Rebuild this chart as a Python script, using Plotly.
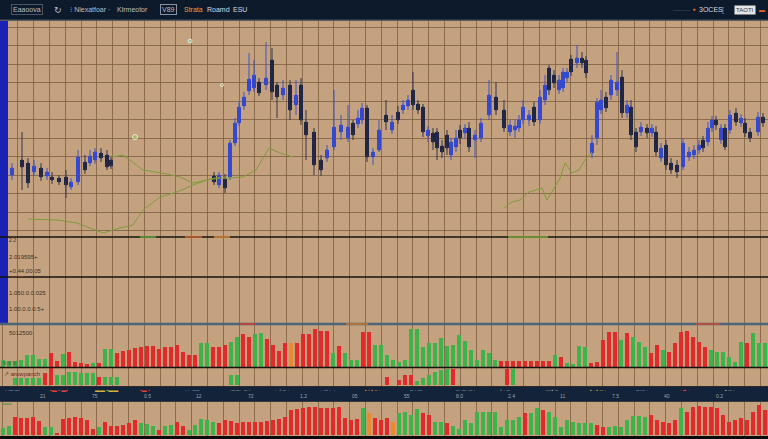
import plotly.graph_objects as go

# ---------------- data ----------------
candle_x = [12, 22, 28, 34, 41, 47, 52, 59, 66, 71, 78, 85, 90, 95, 101, 107, 111,
            214, 219, 225, 230, 235, 239, 244, 249, 254, 259, 266, 272, 277, 283, 290, 296, 301,
            306, 314, 321, 327, 334, 341, 348, 353, 358, 362, 367, 373, 379, 386, 392, 398, 403,
            408, 413, 418, 423, 428, 433, 437, 442, 447, 451, 456, 460, 465, 469, 475, 481, 489,
            496, 504, 510, 515, 519, 523, 529, 534, 540, 545, 549, 554, 559, 563, 567, 571, 577,
            582, 586, 592, 597, 601, 606, 611, 617, 622, 627, 631, 636, 641, 647, 652, 656, 661,
            666, 671, 677, 683, 689, 694, 699, 703, 708, 712, 716, 721, 725, 730, 736, 741, 745,
            750, 758, 763]
candle_open = [62, 77, 74, 65, 69, 61, 60, 59, 60, 50, 55, 75, 74, 77, 84, 82, 77,
               61, 52, 58, 60, 94, 114, 131, 146, 149, 155, 152, 177, 152, 142, 152, 132, 152,
               115, 105, 77, 79, 90, 105, 99, 114, 113, 117, 129, 80, 87, 122, 107, 125, 127,
               131, 147, 133, 130, 101, 104, 105, 91, 102, 82, 90, 107, 104, 109, 97, 99, 122,
               140, 127, 105, 107, 109, 117, 117, 130, 117, 137, 169, 162, 147, 149, 159, 178, 174,
               179, 177, 84, 99, 127, 140, 142, 147, 160, 124, 130, 105, 105, 109, 104, 105, 79,
               92, 74, 72, 70, 80, 82, 87, 97, 95, 109, 117, 97, 109, 107, 124, 114, 114,
               105, 105, 120]
candle_high = [74, 105, 79, 77, 74, 69, 65, 62, 67, 59, 87, 82, 87, 89, 89, 87, 80,
               65, 65, 63, 97, 119, 135, 145, 184, 177, 159, 195, 189, 155, 157, 157, 157, 159,
               127, 109, 82, 92, 147, 122, 132, 117, 127, 134, 132, 89, 117, 137, 122, 131, 137,
               142, 165, 137, 133, 111, 109, 109, 97, 107, 99, 107, 112, 113, 115, 107, 119, 157,
               155, 137, 117, 117, 122, 137, 127, 135, 147, 162, 172, 167, 162, 169, 169, 182, 192,
               185, 181, 102, 139, 147, 145, 162, 185, 167, 137, 137, 109, 115, 113, 113, 111, 94,
               97, 79, 77, 99, 90, 92, 97, 101, 115, 121, 121, 113, 113, 127, 129, 123, 119,
               109, 125, 124]
candle_low = [57, 47, 49, 61, 56, 57, 53, 52, 39, 47, 52, 63, 71, 73, 75, 67, 68,
              52, 49, 44, 57, 91, 111, 127, 142, 145, 141, 147, 137, 119, 137, 117, 122, 112,
              77, 62, 61, 75, 87, 97, 95, 97, 109, 113, 75, 72, 85, 107, 103, 113, 123,
              127, 127, 123, 100, 95, 87, 77, 79, 82, 77, 85, 93, 99, 85, 79, 95, 117,
              122, 105, 101, 99, 105, 113, 111, 111, 113, 132, 142, 149, 143, 145, 155, 161, 169,
              169, 159, 79, 92, 123, 125, 137, 141, 119, 119, 97, 85, 101, 99, 100, 81, 75,
              67, 63, 59, 67, 76, 78, 83, 85, 91, 105, 107, 93, 87, 103, 111, 110, 100,
              95, 101, 110]
candle_close = [69, 70, 54, 71, 60, 65, 57, 55, 52, 55, 80, 67, 81, 85, 79, 70, 71,
                55, 62, 49, 94, 114, 130, 140, 158, 162, 144, 159, 145, 140, 149, 127, 142, 117,
                102, 72, 67, 87, 110, 112, 110, 102, 119, 129, 80, 85, 107, 115, 115, 117, 132,
                137, 132, 127, 105, 107, 95, 89, 85, 89, 95, 99, 99, 109, 90, 102, 114, 142,
                127, 109, 112, 111, 117, 130, 122, 115, 140, 152, 147, 154, 157, 165, 165, 165, 179,
                174, 164, 94, 135, 137, 129, 157, 155, 124, 132, 102, 90, 110, 104, 109, 85, 89,
                72, 67, 65, 94, 85, 87, 92, 89, 109, 117, 112, 109, 90, 122, 115, 119, 104,
                99, 120, 114]

ma1_x = [112, 123, 143, 167, 180, 193, 207, 215, 230, 243, 256, 269, 280, 293]
ma1_y = [80, 82, 67, 63, 60, 54, 57, 59, 59, 60, 67, 89, 84, 80]
ma2_x = [28, 57, 77, 103, 120, 133, 143, 160, 177, 193, 207, 220]
ma2_y = [18, 17, 14, 4, 9, 12, 27, 40, 45, 52, 57, 59]
ma3_x = [504, 512, 520, 529, 536, 542, 547, 555, 560, 565, 572, 579, 585, 592]
ma3_y = [29, 35, 37, 45, 47, 49, 37, 50, 59, 74, 64, 67, 77, 85]

dot_x = [190, 135, 222]
dot_y = [196, 100, 152]

volume = [7, 6, 6, 7, 12, 12, 8, 8, 14, 6, 13, 15, 5, 4, 3, 4, 4, 18, 18, 14,
          16, 17, 19, 20, 21, 21, 18, 20, 20, 22, 15, 12, 12, 24, 24, 20, 20, 22, 25, 30,
          33, 30, 33, 34, 28, 22, 16, 24, 24, 24, 33, 33, 38, 36, 36, 14, 21, 14, 7, 7,
          35, 35, 22, 22, 12, 7, 5, 7, 38, 38, 20, 24, 24, 29, 21, 22, 32, 26, 17, 7,
          17, 14, 7, 6, 6, 6, 6, 6, 6, 6, 6, 6, 12, 10, 4, 3, 21, 20, 4, 5,
          27, 35, 35, 27, 34, 30, 25, 20, 14, 22, 17, 15, 24, 35, 36, 30, 25, 20, 17, 15,
          15, 10, 5, 25, 24, 34, 24, 24]
volume_dir = list(
    "ggggggggrrgrrrrgrggr"
    "rrrrrrrrrrrrrggrrrgg"
    "rrggrrrrorrrrrrgrggg"
    "rrgggggggggggggggggg"
    "gggrrrrrrrrrgrggggrr"
    "rrrgrgggrrgrrrrrrrgg"
    "ggggrggg"
)

osc_idx = [2, 3, 4, 5, 6, 7, 8, 9, 10, 11, 12, 13, 14, 15, 16, 17, 18, 19, 38, 39,
           64, 66, 67, 68, 69, 70, 71, 72, 73, 74, 75, 84, 85]
osc_val = [7, 7, 7, 7, 7, 12, 17, 10, 10, 13, 13, 12, 12, 12, 8, 8, 8, 8, 10, 10,
           8, 5, 10, 10, 4, 7, 10, 13, 15, 16, 16, 16, 16]
osc_dir = list("gggggrrgggggggrggggg" "rrrrggggggrrgg")

lower = [7, 9, 18, 17, 17, 18, 14, 8, 8, 2, 16, 17, 18, 17, 15, 6, 8, 13, 9, 9,
         10, 12, 15, 12, 11, 9, 5, 9, 10, 13, 9, 5, 10, 16, 15, 13, 12, 15, 14, 12,
         13, 13, 13, 13, 14, 15, 16, 18, 25, 26, 27, 28, 28, 27, 27, 27, 28, 17, 15, 16,
         27, 22, 17, 15, 17, 13, 22, 23, 20, 26, 22, 20, 13, 13, 12, 9, 6, 15, 12, 23,
         23, 23, 23, 8, 15, 15, 18, 22, 22, 27, 25, 23, 18, 8, 15, 13, 12, 12, 12, 10,
         8, 8, 9, 8, 15, 19, 19, 18, 20, 15, 13, 12, 15, 27, 23, 28, 29, 28, 28, 27,
         20, 13, 15, 17, 15, 23, 30, 25]
lower_dir = list(
    "ggrrrrrggrrrrrrrgrrr"
    "rrrgggrggrrgggggrrrr"
    "rrrrrrrrrrrrrrrrrrrr"
    "gorrroggggrrggrggggg"
    "gggggggrggrggggggggr"
    "rgggggggrrrrrgrrrrrr"
    "rrrrrrrr"
)

header_left = ["Eaaoova", "↻", "⁝ Nlexatfoar ·", "Klrmeotor", "V89", "Strata", "Roamd", "ESU"]
header_right = ["3OCES", "[", "TAOTI"]
panel_labels = ["2.2", "2.019595+", "+0.44,00.05", "1.050.0.0.025", "1.00.0.0.0.5+", "5012500"]
strip_labels = ["· ·─ ─·", "▪▬ ▪ ▬▪", "▬▬ ▪▬▬", "▪▬ ▪", "· ·  ──", "·╌·╌·  ─ ·", "·  ▫ ─ ·",
                "· ·╌ ·  ·", "▪ ▫ ▪ ╌ ·", "╌ · ─·", "─ ·╌ ·─ ·", "▫ · ─", "·─ ▪ ─", "▪ · ▪ ─ ·",
                "─·─ ·", "· ▪▪ ·", "▪ ─ ·"]
strip_nums = ["21", "75", "0.5", "12", "72", "1.2", "05", "55", "8.0", "2.4", "11", "7.5", "40", "0.2"]

# ---------------- styling ----------------
W, H = 768, 439
BG = "#c4a27f"
GRID = "rgba(118,88,60,0.72)"
BAR_COL = {"g": "#3cb44a", "r": "#e32a2a", "o": "#e98a2c"}
UP_FILL, DN_FILL = "#2c40dc", "#141a3a"
NAVY = "#0d1a2c"


def pyp(p):
    return 1 - p / H


def pxp(p):
    return p / W


fig = go.Figure()

# background grid subplot (vertical grid lines through all panels)
fig.add_trace(go.Scatter(x=[0, 768], y=[0, 1], mode="markers", marker=dict(opacity=0),
                         hoverinfo="skip", showlegend=False, xaxis="x", yaxis="y"))

# candle bodies (wider) drawn as floating bars, then the candlestick itself on top
body_len = [c - o for o, c in zip(candle_open, candle_close)]
fig.add_trace(go.Bar(x=candle_x, y=body_len, base=candle_open, width=3.8,
                     marker=dict(color=[UP_FILL if b > 0 else DN_FILL for b in body_len],
                                 line=dict(width=0)),
                     xaxis="x2", yaxis="y2", showlegend=False, hoverinfo="skip"))
fig.add_trace(go.Candlestick(
    x=candle_x, open=candle_open, high=candle_high, low=candle_low, close=candle_close,
    xaxis="x2", yaxis="y2", whiskerwidth=0, showlegend=False,
    increasing=dict(line=dict(color="#4152c4", width=1), fillcolor=UP_FILL),
    decreasing=dict(line=dict(color="#30354f", width=1), fillcolor=DN_FILL)))

for mx, my in ((ma1_x, ma1_y), (ma2_x, ma2_y), (ma3_x, ma3_y)):
    fig.add_trace(go.Scatter(x=mx, y=my, mode="lines", line=dict(color="#7f9c3a", width=1),
                             xaxis="x2", yaxis="y2", showlegend=False, hoverinfo="skip"))

fig.add_trace(go.Scatter(x=dot_x, y=dot_y, mode="markers",
                         marker=dict(size=[4, 5, 3], color=["#8fd0c8", "#9acd52", "#7fb04a"]),
                         xaxis="x2", yaxis="y2", showlegend=False, hoverinfo="skip"))

fig.add_trace(go.Bar(x=list(range(len(volume))), y=volume,
                     marker=dict(color=[BAR_COL[d] for d in volume_dir], line=dict(width=0)),
                     width=0.82, xaxis="x3", yaxis="y3", showlegend=False))
fig.add_trace(go.Bar(x=osc_idx, y=osc_val,
                     marker=dict(color=[BAR_COL[d] for d in osc_dir], line=dict(width=0)),
                     width=0.82, xaxis="x4", yaxis="y4", showlegend=False))
fig.add_trace(go.Bar(x=list(range(len(lower))), y=lower,
                     marker=dict(color=[BAR_COL[d] for d in lower_dir], line=dict(width=0)),
                     width=0.82, xaxis="x5", yaxis="y5", showlegend=False))

hidden = dict(showticklabels=False, ticks="", zeroline=False, showline=False, fixedrange=True)

fig.update_layout(
    width=W, height=H, margin=dict(l=0, r=0, t=0, b=0),
    paper_bgcolor=BG, plot_bgcolor="rgba(0,0,0,0)",
    bargap=0, barmode="overlay",
    xaxis=dict(domain=[0, 1], range=[0, 768], showgrid=True, gridcolor=GRID, gridwidth=1,
               tick0=2, dtick=15.8, **hidden),
    yaxis=dict(domain=[pyp(436), pyp(21)], range=[0, 1], showgrid=False, **hidden),
    xaxis2=dict(domain=[0, 1], range=[0, 768], anchor="y2", showgrid=False,
                rangeslider=dict(visible=False), **hidden),
    yaxis2=dict(domain=[pyp(237), pyp(21)], range=[0, 216], anchor="x2", showgrid=True,
                gridcolor=GRID, tick0=25, dtick=18.5, **hidden),
    xaxis3=dict(domain=[0, 1], range=[-0.5, 127.5], anchor="y3", showgrid=False, **hidden),
    yaxis3=dict(domain=[pyp(367), pyp(325)], range=[0, 42], anchor="x3", showgrid=False, **hidden),
    xaxis4=dict(domain=[0, 1], range=[-0.5, 127.5], anchor="y4", showgrid=False, **hidden),
    yaxis4=dict(domain=[pyp(386), pyp(367)], range=[-1, 18], anchor="x4", showgrid=False, **hidden),
    xaxis5=dict(domain=[0, 1], range=[-0.5, 127.5], anchor="y5", showgrid=False, **hidden),
    yaxis5=dict(domain=[pyp(436), pyp(402)], range=[-1, 33], anchor="x5", showgrid=False, **hidden),
)

shapes = []


def rect(x0, y0, x1, y1, color, layer="above"):
    shapes.append(dict(type="rect", xref="paper", yref="paper", x0=pxp(x0), x1=pxp(x1),
                       y0=pyp(y1), y1=pyp(y0), fillcolor=color, line=dict(width=0), layer=layer))


def hline(y, color, width, x0=0, x1=768):
    shapes.append(dict(type="line", xref="paper", yref="paper", x0=pxp(x0), x1=pxp(x1),
                       y0=pyp(y), y1=pyp(y), line=dict(color=color, width=width), layer="above"))


rect(0, 0, 768, 20, NAVY)
hline(20, "#39414f", 1.5)
rect(0, 21, 8, 325, "#1a22b6")
hline(237, "#17120e", 1.6)
hline(277, "#17120e", 1.6)
hline(324, "#4b6478", 2.6)
hline(367.5, "#17120e", 1.6)
rect(0, 386, 768, 402, "#13233a")
hline(386.5, "#2c2a2a", 1)
hline(401.5, "#3a3a3a", 1)
rect(0, 436, 768, 439, "#0a0a0a")
# small coloured tick marks on separators
hline(237, "#5fa83a", 1.5, 140, 156)
hline(237, "#d0602a", 1.5, 185, 202)
hline(237, "#d88a30", 1.5, 214, 230)
hline(237, "#7aa83a", 1.5, 508, 548)
hline(324, "#d04030", 1.5, 240, 256)
hline(324, "#c87a30", 1.5, 346, 368)
hline(324, "#d04a30", 1.5, 696, 720)
fig.update_layout(shapes=shapes)

ann = []


def text(x, y, s, color="#b9bec7", size=7, **kw):
    ann.append(dict(x=pxp(x), y=pyp(y), xref="paper", yref="paper", text=s, showarrow=False,
                    xanchor="left", yanchor="middle",
                    font=dict(family="Liberation Sans, DejaVu Sans", size=size, color=color), **kw))


# header
text(11, 10, header_left[0], size=7, bordercolor="#4a5466", borderwidth=1, borderpad=1)
text(52, 10, header_left[1], size=9)
text(68, 10, header_left[2], size=7)
text(115, 10, header_left[3], size=7)
text(160, 10, header_left[4], size=7, bordercolor="#8a93a3", borderwidth=1, borderpad=1)
text(182, 10, header_left[5], size=7, color="#e0a032")
text(205, 10, header_left[6], size=7, color="#d6dae0")
text(231, 10, header_left[7], size=7, color="#d6dae0")
text(670, 10, "────", size=6, color="#4c5668")
text(691, 10, "▪", size=8, color="#e06a2a")
text(697, 10, header_right[0], size=7, color="#d6dae0")
text(720, 10, header_right[1], size=7, color="#8a93a3")
text(734, 10, header_right[2], size=6, color="#333", bgcolor="#e4e4e4", borderpad=1)
text(757, 10, "▬", size=6, color="#e06030")

# panel labels
text(7, 240, panel_labels[0], size=5, color="#3a3128")
text(7, 257, panel_labels[1], size=6, color="#3a3128")
text(7, 271, panel_labels[2], size=6, color="#3a3128")
text(7, 276, "─ ─ ─", size=5, color="#c04030")
text(7, 293, panel_labels[3], size=6, color="#3a3128")
text(7, 309, panel_labels[4], size=6, color="#3a3128")
text(7, 333, panel_labels[5], size=6, color="#3a3128")
text(0, 363, "≋≋≋", size=6, color="#2f6a3a")
text(2, 374, "↗ arowpanch", size=6, color="#6a2a24")
text(0, 404, "≈≈≈", size=6, color="#2f8a3a")

# dark strip
colors_strip = ["#c9ced6", "#e0403a", "#d8b43a", "#e0403a", "#b8c0cc", "#aab2be", "#aab2be",
                "#aab2be", "#d88a3a", "#b8c0cc", "#aab2be", "#b8c0cc", "#aab2be", "#d8a03a",
                "#aab2be", "#e0503a", "#aab2be"]
for k, s in enumerate(strip_labels):
    text(3 + k * 45, 390, s, size=5, color=colors_strip[k])
for k, s in enumerate(strip_nums):
    text(38 + k * 52, 396, s, size=5, color="#9aa3b0")
fig.update_layout(annotations=ann)

fig.write_html("out.html")
